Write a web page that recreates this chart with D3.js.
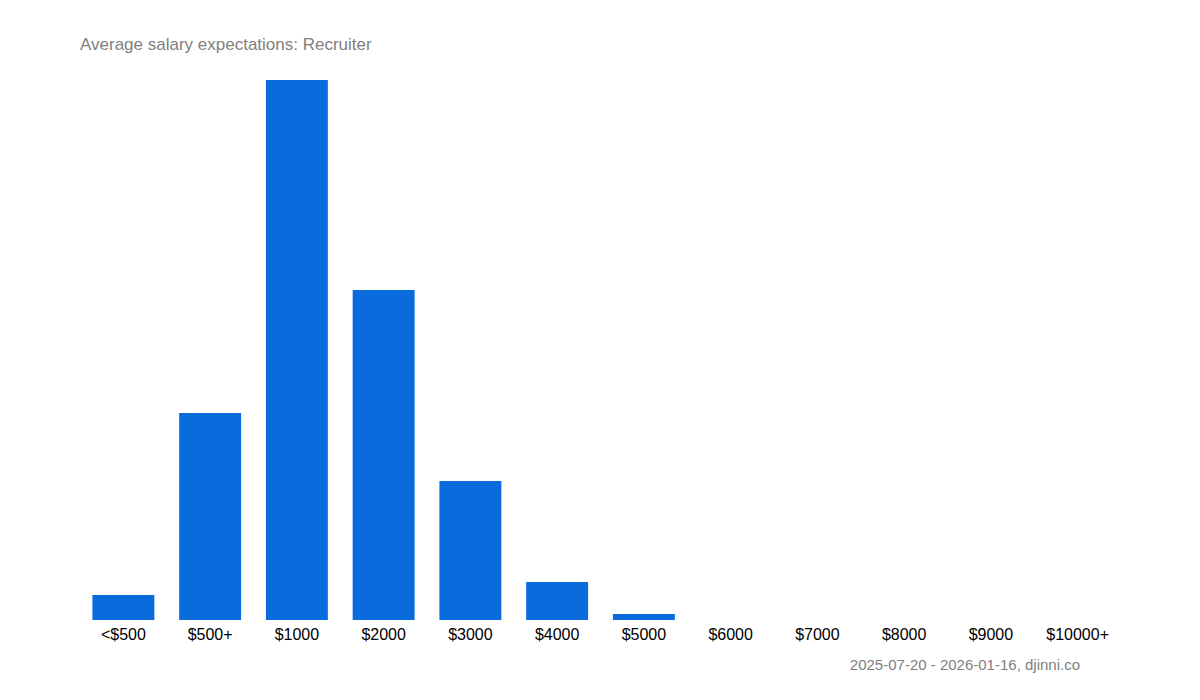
<!DOCTYPE html>
<html><head><meta charset="utf-8">
<script src="https://cdn.jsdelivr.net/npm/d3@7"></script>
<style>body{margin:0;background:#fff}</style></head>
<body><svg id="c" width="1200" height="700"></svg>
<script>
const categories = ["<$500","$500+","$1000","$2000","$3000","$4000","$5000","$6000","$7000","$8000","$9000","$10000+"];
const values = [25,207,540,330,139,38,6,0,0,0,0,0];
const title = "Average salary expectations:  Recruiter";
const footer = "2025-07-20 - 2026-01-16, djinni.co";

const svg = d3.select("#c");
const font = "Arial, 'Liberation Sans', sans-serif";
const x = d3.scaleBand().domain(categories).range([80,1121]).paddingInner(0.286).paddingOuter(0.143);
const y = d3.scaleLinear().domain([0,540]).range([620,80]);

svg.append("text").attr("x",80).attr("y",50).attr("font-family",font).attr("font-size",17).attr("fill","#808080").text(title);

svg.selectAll("rect").data(values).join("rect")
  .attr("x",(d,i)=>x(categories[i])).attr("width",x.bandwidth())
  .attr("y",d=>y(d)).attr("height",d=>620-y(d)).attr("fill","#0a6bdc");

const ax = svg.append("g").attr("transform","translate(0,620)").call(d3.axisBottom(x).tickSize(0).tickPadding(9));
ax.select(".domain").remove();
ax.selectAll("text").attr("font-family",font).attr("font-size",16).attr("fill","#000");

svg.append("text").attr("x",1080).attr("y",670).attr("text-anchor","end").attr("font-family",font).attr("font-size",15).attr("fill","#808080").text(footer);
</script></body></html>
